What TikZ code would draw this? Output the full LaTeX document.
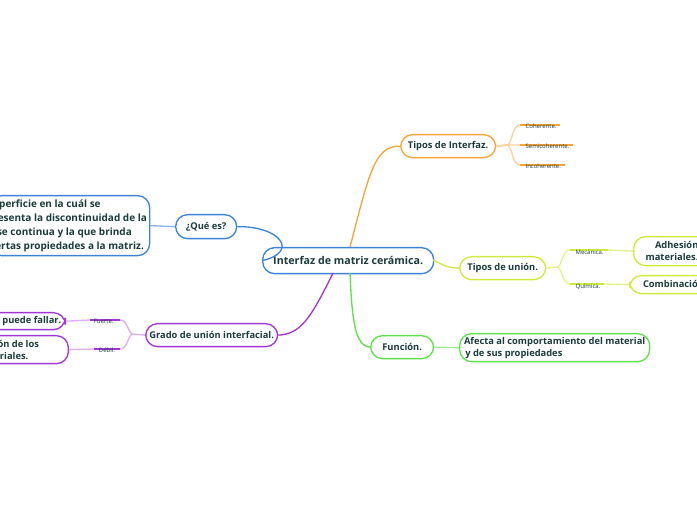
\documentclass[tikz,border=0pt]{standalone}
\usepackage{fontspec}
\setmainfont{Open Sans}
\usetikzlibrary{calc}
\definecolor{txt}{HTML}{1B3A3A}
\definecolor{cb}{HTML}{3C82D8}
\definecolor{co}{HTML}{F7A43A}
\definecolor{cl}{HTML}{CDEB3C}
\definecolor{cg}{HTML}{5EE04A}
\definecolor{cp}{HTML}{A236D6}
\tikzset{
 box/.style={draw=#1,line width=1pt,rounded corners=9pt,text=txt,font=\bfseries\fontsize{7}{9}\selectfont,inner sep=0pt,anchor=north west},
 lbl/.style={text=txt,font=\fontsize{4.5}{5}\selectfont,inner sep=0pt},
 con/.style={draw=#1,line width=1pt},
}
\begin{document}
\begin{tikzpicture}[x=0.75pt,y=-0.75pt]
\useasboundingbox (0,0) rectangle (697,520);
\clip (0,0) rectangle (697,520);
% center
\node[box=cb,minimum width=171*0.75pt,minimum height=26*0.75pt,font=\bfseries\fontsize{8}{10}\selectfont] (c) at (262,247) {Interfaz de matriz cerámica.};
% que es
\node[box=cb,minimum width=61*0.75pt,minimum height=24*0.75pt] (q) at (175,214) {¿Qué es?};
\node[box=cb,minimum width=160*0.75pt,minimum height=60*0.75pt,align=left,font=\bfseries\fontsize{7.5}{10.5}\selectfont] (qd) at (-11,195) {\hspace*{-4pt}Superficie en la cuál se\\\hspace*{-4pt}presenta la discontinuidad de la\\\hspace*{-4pt}fase continua y la que brinda\\\hspace*{-4pt}ciertas propiedades a la matriz.};
\draw[con=cb!60] (qd.east) -- (q.west);
\draw[con=cb] (c.west) .. controls (300,252) and (280,226) .. (q.east);
% tipos interfaz
\node[box=co,minimum width=95*0.75pt,minimum height=23*0.75pt] (ti) at (400,134) {Tipos de Interfaz.};
\draw[con=co] (350,247) .. controls (370,170) and (375,146) .. (ti.west);
\foreach \n/\y/\e/\t in {o1/125/560/Coherente.,o2/145/573/Semicoherente.,o3/165/565/Incoherente.}{
 \coordinate (\n) at (520,\y); \coordinate (\n e) at (\e,\y);
 \draw[con=co!50] (ti.east) -- (507,145) .. controls (512,145) and (512,\y) .. (\n);
 \draw[draw=co,line width=1.3pt] (\n) -- (\n e);
 \node[lbl,anchor=south west] at ([xshift=4,yshift=-3]\n) {\t};
}
% tipos de union
\node[box=cl,minimum width=86*0.75pt,minimum height=23*0.75pt] (tu) at (459,256) {Tipos de unión.};
\draw[con=cl] (433,260) .. controls (445,266) and (448,268) .. (tu.west);
\coordinate (m1) at (570,250); \coordinate (m1e) at (608,250);
\coordinate (m2) at (570,284); \coordinate (m2e) at (604,284);
\draw[con=cl!60] (tu.east) -- (557,267) .. controls (562,267) and (562,250) .. (m1);
\draw[con=cl!60] (557,267) .. controls (562,267) and (562,284) .. (m2);
\draw[draw=cl,line width=1.3pt] (m1) -- (m1e);
\draw[draw=cl,line width=1.3pt] (m2) -- (m2e);
\node[lbl,anchor=south west] at ([xshift=4,yshift=-4]m1) {Mecánica.};
\node[lbl,anchor=south west] at ([xshift=4,yshift=-4]m2) {Química.};
\node[box=cl,minimum width=80*0.75pt,minimum height=29*0.75pt,align=left] (ad) at (633,236) {\hspace*{16pt}Adhesión de los\\\hspace*{9pt}materiales.};
\node[box=cl,minimum width=80*0.75pt,minimum height=18*0.75pt,align=left] (cq) at (629,275) {\hspace*{10pt}Combinación química.};
\draw[con=cl!60] (m1e) -- (ad.west);
\draw[con=cl!60] (m2e) -- (cq.west);
% funcion
\node[box=cg,minimum width=63*0.75pt,minimum height=23*0.75pt] (f) at (370,335) {Función.};
\draw[con=cg] (350,273) .. controls (352,320) and (355,346) .. (f.west);
\node[box=cg,minimum width=190*0.75pt,minimum height=28*0.75pt,align=left] (af) at (459,333) {Afecta al comportamiento del material\\\hspace*{1pt}y de sus propiedades};
\draw[con=cg!60] (f.east) -- (af.west);
% grado
\node[box=cp,minimum width=132*0.75pt,minimum height=23*0.75pt] (g) at (145,323) {Grado de unión interfacial.};
\draw[con=cp] (333,273) .. controls (310,320) and (300,334) .. (g.east);
\coordinate (p1) at (90,320); \coordinate (p1e) at (120,320);
\coordinate (p2) at (94,349); \coordinate (p2e) at (120,349);
\draw[con=cp!40] (g.west) -- (133,334) .. controls (128,334) and (128,320) .. (p1e);
\draw[con=cp!40] (133,334) .. controls (128,334) and (128,349) .. (p2e);
\draw[draw=cp,line width=1.3pt] (p1) -- (p1e);
\draw[draw=cp,line width=1.3pt] (p2) -- (p2e);
\node[lbl,anchor=south] at ([xshift=-1,yshift=-3]$(p1)!0.5!(p1e)$) {Fuerte.};
\node[lbl,anchor=south] at ([yshift=-3]$(p2)!0.5!(p2e)$) {Débil.};
\node[box=cp,minimum width=77*0.75pt,minimum height=17*0.75pt,anchor=north east,align=right] (fu) at (66,312) {La interfaz puede fallar.\hspace*{3pt}};
\node[box=cp,minimum width=80*0.75pt,minimum height=28*0.75pt,anchor=north east,align=right] (de) at (69,335) {Separación de los\hspace*{22pt}\\ materiales.\hspace*{30pt}};
\draw[con=cp!40] (p1) -- (fu.east);
\draw[con=cp!40] (p2) -- (de.east);
\end{tikzpicture}
\end{document}
